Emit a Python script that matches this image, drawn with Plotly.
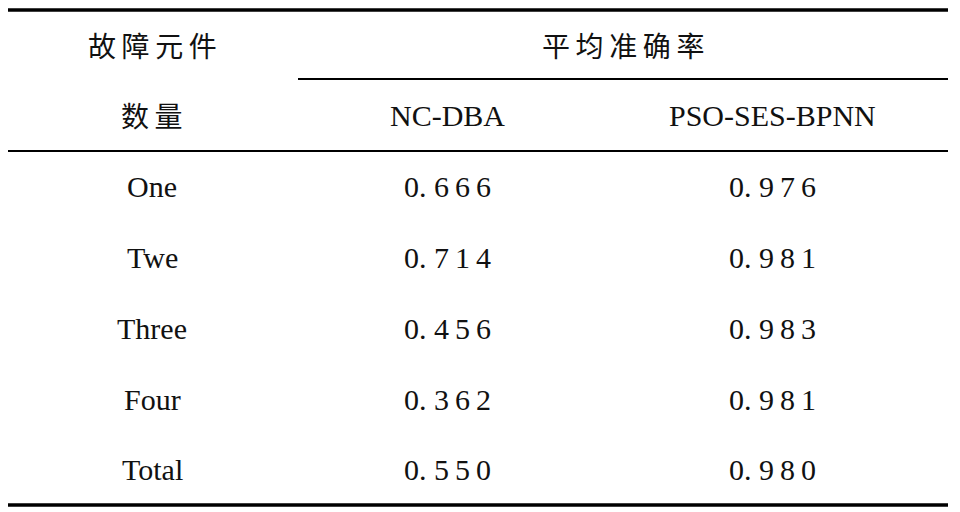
import plotly.graph_objects as go

header_top = "平均准确率"
header_left = ["故障元件", "数量"]
methods = ["NC-DBA", "PSO-SES-BPNN"]
counts = ["One", "Twe", "Three", "Four", "Total"]
nc_dba = ["0.666", "0.714", "0.456", "0.362", "0.550"]
pso = ["0.976", "0.981", "0.983", "0.981", "0.980"]

col_x = [152, 447, 772]
row_y = [186, 257, 328, 399, 469]
serif = "Liberation Serif, DejaVu Serif, serif"
cjk = "Noto Sans CJK SC"

def fmt(v):
    a, b = v.split(".")
    return a + ". " + "\u2009".join(b)

fig = go.Figure()
ann = []
def add(x, y, t, f, size=30):
    ann.append(dict(x=x, y=y, text=t, showarrow=False, xref="x", yref="y",
                    font=dict(family=f, size=size, color="#111")))

add(col_x[0], 45, "\u2009".join(header_left[0]), cjk, 28)
add(col_x[0], 115, "\u2009".join(header_left[1]), cjk, 28)
add(623, 45, "\u2009".join(header_top), cjk, 28)
for x, m in zip(col_x[1:], methods):
    add(x, 115, m, serif)
for i, y in enumerate(row_y):
    add(col_x[0], y, counts[i], serif)
    add(col_x[1], y, fmt(nc_dba[i]), serif)
    add(col_x[2], y, fmt(pso[i]), serif)

shapes = [
    dict(type="line", x0=3, x1=948, y0=10, y1=10, line=dict(color="black", width=3.5)),
    dict(type="line", x0=298, x1=948, y0=79, y1=79, line=dict(color="black", width=1.8)),
    dict(type="line", x0=3, x1=948, y0=151, y1=151, line=dict(color="black", width=1.8)),
    dict(type="line", x0=3, x1=948, y0=505, y1=505, line=dict(color="black", width=3.5)),
]
for s in shapes:
    s.update(xref="x", yref="y")

fig.update_layout(
    width=952, height=504, margin=dict(l=0, r=0, t=0, b=0),
    paper_bgcolor="white", plot_bgcolor="white",
    xaxis=dict(range=[8, 960], visible=False, fixedrange=True),
    yaxis=dict(range=[512, 8], visible=False, fixedrange=True),
    annotations=ann, shapes=shapes, showlegend=False,
)
fig.write_html("out.html")
